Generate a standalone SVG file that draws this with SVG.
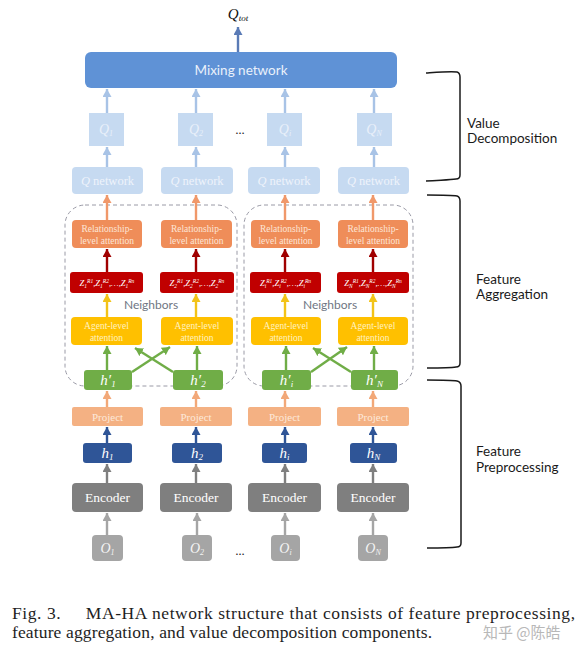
<svg xmlns="http://www.w3.org/2000/svg" width="579" height="658" viewBox="0 0 579 658">
<style>
.mix{fill:#5f92d6}
.qb{fill:#c6daf1}
.rel{fill:#ef8d59}
.z{fill:#c00000}
.ag{fill:#ffc000}
.hp{fill:#70ad47}
.pj{fill:#f4b183}
.hb{fill:#2f5597}
.enc{fill:#7f7f7f}
.ob{fill:#a5a5a5}
.serif{font-family:"Liberation Serif","Times New Roman",serif}
.sans{font-family:Lato,"Liberation Sans",Arial,sans-serif}
.it{font-style:italic}
.ar{fill:none;stroke-width:2.4}
.sb{font-size:5.5px}
.dash{fill:none;stroke:#9a9aa6;stroke-width:1;stroke-dasharray:4 3}
.br{fill:none;stroke:#1a1a1a;stroke-width:1.5}
</style>
<defs>
<marker id="m-qt" markerUnits="userSpaceOnUse" markerWidth="9" markerHeight="9" refX="8" refY="4.5" orient="auto"><path d="M0,0 L8,4.5 L0,9 z" fill="#5a7bb6"/></marker>
<marker id="m-lb" markerUnits="userSpaceOnUse" markerWidth="9" markerHeight="9" refX="8" refY="4.5" orient="auto"><path d="M0,0 L8,4.5 L0,9 z" fill="#a8c3e6"/></marker>
<marker id="m-or" markerUnits="userSpaceOnUse" markerWidth="9" markerHeight="9" refX="8" refY="4.5" orient="auto"><path d="M0,0 L8,4.5 L0,9 z" fill="#f0986a"/></marker>
<marker id="m-rd" markerUnits="userSpaceOnUse" markerWidth="9" markerHeight="9" refX="8" refY="4.5" orient="auto"><path d="M0,0 L8,4.5 L0,9 z" fill="#a00000"/></marker>
<marker id="m-ye" markerUnits="userSpaceOnUse" markerWidth="9" markerHeight="9" refX="8" refY="4.5" orient="auto"><path d="M0,0 L8,4.5 L0,9 z" fill="#f2c318"/></marker>
<marker id="m-gr" markerUnits="userSpaceOnUse" markerWidth="9" markerHeight="9" refX="8" refY="4.5" orient="auto"><path d="M0,0 L8,4.5 L0,9 z" fill="#70ad47"/></marker>
<marker id="m-pj" markerUnits="userSpaceOnUse" markerWidth="9" markerHeight="9" refX="8" refY="4.5" orient="auto"><path d="M0,0 L8,4.5 L0,9 z" fill="#f2a878"/></marker>
<marker id="m-hb" markerUnits="userSpaceOnUse" markerWidth="9" markerHeight="9" refX="8" refY="4.5" orient="auto"><path d="M0,0 L8,4.5 L0,9 z" fill="#2f5597"/></marker>
<marker id="m-gy" markerUnits="userSpaceOnUse" markerWidth="9" markerHeight="9" refX="8" refY="4.5" orient="auto"><path d="M0,0 L8,4.5 L0,9 z" fill="#7f7f7f"/></marker>
<marker id="m-lg" markerUnits="userSpaceOnUse" markerWidth="9" markerHeight="9" refX="8" refY="4.5" orient="auto"><path d="M0,0 L8,4.5 L0,9 z" fill="#a5a5a5"/></marker>
</defs>
<rect width="579" height="658" fill="#ffffff"/>

<g id="groups">
<rect class="dash" x="65" y="205" width="172" height="181" rx="20"/>
<rect class="dash" x="244" y="205" width="169" height="181" rx="20"/>
<text class="sans" x="151" y="309" font-size="12" fill="#6f7683" text-anchor="middle">Neighbors</text>
<text class="sans" x="330" y="309" font-size="12" fill="#6f7683" text-anchor="middle">Neighbors</text>
</g>

<g id="connectors">
<line class="ar" x1="238" y1="52" x2="238" y2="27" stroke="#5a7bb6" marker-end="url(#m-qt)"/>
<g stroke="#a8c3e6">
<line class="ar" x1="107" y1="113" x2="107" y2="89" marker-end="url(#m-lb)"/>
<line class="ar" x1="196" y1="113" x2="196" y2="89" marker-end="url(#m-lb)"/>
<line class="ar" x1="285" y1="113" x2="285" y2="89" marker-end="url(#m-lb)"/>
<line class="ar" x1="374" y1="113" x2="374" y2="89" marker-end="url(#m-lb)"/>
<line class="ar" x1="107" y1="167" x2="107" y2="147" marker-end="url(#m-lb)"/>
<line class="ar" x1="196" y1="167" x2="196" y2="147" marker-end="url(#m-lb)"/>
<line class="ar" x1="285" y1="167" x2="285" y2="147" marker-end="url(#m-lb)"/>
<line class="ar" x1="374" y1="167" x2="374" y2="147" marker-end="url(#m-lb)"/>
</g>
<g stroke="#f0986a">
<line class="ar" x1="107" y1="220" x2="107" y2="195" marker-end="url(#m-or)"/>
<line class="ar" x1="196" y1="220" x2="196" y2="195" marker-end="url(#m-or)"/>
<line class="ar" x1="285" y1="220" x2="285" y2="195" marker-end="url(#m-or)"/>
<line class="ar" x1="373" y1="220" x2="373" y2="195" marker-end="url(#m-or)"/>
</g>
<g stroke="#a00000">
<line class="ar" x1="107" y1="272" x2="107" y2="249" marker-end="url(#m-rd)"/>
<line class="ar" x1="196" y1="272" x2="196" y2="249" marker-end="url(#m-rd)"/>
<line class="ar" x1="285" y1="272" x2="285" y2="249" marker-end="url(#m-rd)"/>
<line class="ar" x1="373" y1="272" x2="373" y2="249" marker-end="url(#m-rd)"/>
</g>
<g stroke="#f2c318">
<line class="ar" x1="107" y1="317" x2="107" y2="294" marker-end="url(#m-ye)"/>
<line class="ar" x1="196" y1="317" x2="196" y2="294" marker-end="url(#m-ye)"/>
<line class="ar" x1="285" y1="317" x2="285" y2="294" marker-end="url(#m-ye)"/>
<line class="ar" x1="373" y1="317" x2="373" y2="294" marker-end="url(#m-ye)"/>
</g>
<g stroke="#70ad47">
<line class="ar" x1="107" y1="370" x2="107" y2="346" marker-end="url(#m-gr)"/>
<line class="ar" x1="197" y1="370" x2="197" y2="346" marker-end="url(#m-gr)"/>
<line class="ar" x1="286" y1="370" x2="286" y2="346" marker-end="url(#m-gr)"/>
<line class="ar" x1="374" y1="370" x2="374" y2="346" marker-end="url(#m-gr)"/>
<line class="ar" x1="132" y1="372" x2="170" y2="347" marker-end="url(#m-gr)"/>
<line class="ar" x1="173" y1="372" x2="135" y2="348" marker-end="url(#m-gr)"/>
<line class="ar" x1="311" y1="372" x2="347" y2="347" marker-end="url(#m-gr)"/>
<line class="ar" x1="351" y1="372" x2="313" y2="348" marker-end="url(#m-gr)"/>
</g>
<g stroke="#f2a878">
<line class="ar" x1="107" y1="407" x2="107" y2="391" marker-end="url(#m-pj)"/>
<line class="ar" x1="196" y1="407" x2="196" y2="391" marker-end="url(#m-pj)"/>
<line class="ar" x1="285" y1="407" x2="285" y2="391" marker-end="url(#m-pj)"/>
<line class="ar" x1="373" y1="407" x2="373" y2="391" marker-end="url(#m-pj)"/>
</g>
<g stroke="#2f5597">
<line class="ar" x1="107" y1="443" x2="107" y2="427" marker-end="url(#m-hb)"/>
<line class="ar" x1="196" y1="443" x2="196" y2="427" marker-end="url(#m-hb)"/>
<line class="ar" x1="285" y1="443" x2="285" y2="427" marker-end="url(#m-hb)"/>
<line class="ar" x1="373" y1="443" x2="373" y2="427" marker-end="url(#m-hb)"/>
</g>
<g stroke="#7f7f7f">
<line class="ar" x1="107" y1="483" x2="107" y2="464" marker-end="url(#m-gy)"/>
<line class="ar" x1="196" y1="483" x2="196" y2="464" marker-end="url(#m-gy)"/>
<line class="ar" x1="285" y1="483" x2="285" y2="464" marker-end="url(#m-gy)"/>
<line class="ar" x1="373" y1="483" x2="373" y2="464" marker-end="url(#m-gy)"/>
</g>
<g stroke="#a5a5a5">
<line class="ar" x1="107" y1="535" x2="107" y2="513" marker-end="url(#m-lg)"/>
<line class="ar" x1="197" y1="535" x2="197" y2="513" marker-end="url(#m-lg)"/>
<line class="ar" x1="285" y1="535" x2="285" y2="513" marker-end="url(#m-lg)"/>
<line class="ar" x1="373" y1="535" x2="373" y2="513" marker-end="url(#m-lg)"/>
</g>
</g>

<g id="qtot"><text class="serif it" x="238" y="19" font-size="15" fill="#111" text-anchor="middle">Q<tspan font-size="9" dy="2">tot</tspan></text></g>

<g id="mixing">
<rect class="mix" x="85" y="52" width="312" height="36" rx="6"/>
<text class="sans" x="241" y="75" font-size="13.5" fill="#eaf1fb" text-anchor="middle">Mixing network</text>
</g>

<g id="q-values" class="serif it" font-size="14" fill="#e9f0fa" text-anchor="middle">
<g id="q1"><rect class="qb" x="89" y="113" width="35" height="33"/><text x="106" y="134">Q<tspan font-size="8" dy="2">1</tspan></text></g>
<g id="q2"><rect class="qb" x="178" y="113" width="35" height="33"/><text x="196" y="134">Q<tspan font-size="8" dy="2">2</tspan></text></g>
<g id="qi"><rect class="qb" x="267" y="113" width="35" height="33"/><text x="285" y="134">Q<tspan font-size="8" dy="2">i</tspan></text></g>
<g id="qn"><rect class="qb" x="357" y="113" width="35" height="33"/><text x="374" y="134">Q<tspan font-size="8" dy="2">N</tspan></text></g>
</g>
<text class="sans" x="240" y="134" font-size="12" fill="#222" text-anchor="middle">…</text>

<g id="q-networks" class="serif" font-size="12.5" fill="#eef3fb" text-anchor="middle">
<g id="qnet1"><rect class="qb" x="72" y="167" width="71" height="27" rx="4"/><text x="107.5" y="185"><tspan font-style="italic">Q</tspan> network</text></g>
<g id="qnet2"><rect class="qb" x="161" y="167" width="72" height="27" rx="4"/><text x="197" y="185"><tspan font-style="italic">Q</tspan> network</text></g>
<g id="qnet3"><rect class="qb" x="248" y="167" width="72" height="27" rx="4"/><text x="284" y="185"><tspan font-style="italic">Q</tspan> network</text></g>
<g id="qnet4"><rect class="qb" x="338" y="167" width="71" height="27" rx="4"/><text x="373.5" y="185"><tspan font-style="italic">Q</tspan> network</text></g>
</g>

<g id="relationship" class="serif" font-size="9.5" fill="#fde6d8" text-anchor="middle">
<g id="rel1"><rect class="rel" x="72" y="220" width="70" height="28" rx="4"/><text x="107" y="232">Relationship-</text><text x="107" y="243.5">level attention</text></g>
<g id="rel2"><rect class="rel" x="161" y="220" width="71" height="28" rx="4"/><text x="196.5" y="232">Relationship-</text><text x="196.5" y="243.5">level attention</text></g>
<g id="rel3"><rect class="rel" x="251" y="220" width="69" height="28" rx="4"/><text x="285.5" y="232">Relationship-</text><text x="285.5" y="243.5">level attention</text></g>
<g id="rel4"><rect class="rel" x="338" y="220" width="70" height="28" rx="4"/><text x="373" y="232">Relationship-</text><text x="373" y="243.5">level attention</text></g>
</g>

<g id="z-features" class="serif it" font-size="8.5" fill="#ffffff" text-anchor="middle">
<g id="z1"><rect class="z" x="70" y="272" width="73" height="21" rx="3"/><text x="107" y="286">Z<tspan class="sb" dy="2">1</tspan><tspan class="sb" dy="-5.5">R1</tspan><tspan dy="3.5">,Z</tspan><tspan class="sb" dy="2">1</tspan><tspan class="sb" dy="-5.5">R2</tspan><tspan dy="3.5">,…,Z</tspan><tspan class="sb" dy="2">1</tspan><tspan class="sb" dy="-5.5">Rn</tspan></text></g>
<g id="z2"><rect class="z" x="160" y="272" width="74" height="21" rx="3"/><text x="197" y="286">Z<tspan class="sb" dy="2">2</tspan><tspan class="sb" dy="-5.5">R1</tspan><tspan dy="3.5">,Z</tspan><tspan class="sb" dy="2">2</tspan><tspan class="sb" dy="-5.5">R2</tspan><tspan dy="3.5">,…,Z</tspan><tspan class="sb" dy="2">2</tspan><tspan class="sb" dy="-5.5">Rn</tspan></text></g>
<g id="z3"><rect class="z" x="250" y="272" width="71" height="21" rx="3"/><text x="285.5" y="286">Z<tspan class="sb" dy="2">i</tspan><tspan class="sb" dy="-5.5">R1</tspan><tspan dy="3.5">,Z</tspan><tspan class="sb" dy="2">i</tspan><tspan class="sb" dy="-5.5">R2</tspan><tspan dy="3.5">,…,Z</tspan><tspan class="sb" dy="2">i</tspan><tspan class="sb" dy="-5.5">Rn</tspan></text></g>
<g id="z4"><rect class="z" x="337" y="272" width="72" height="21" rx="3"/><text x="373" y="286">Z<tspan class="sb" dy="2">N</tspan><tspan class="sb" dy="-5.5">R1</tspan><tspan dy="3.5">,Z</tspan><tspan class="sb" dy="2">N</tspan><tspan class="sb" dy="-5.5">R2</tspan><tspan dy="3.5">,…,Z</tspan><tspan class="sb" dy="2">N</tspan><tspan class="sb" dy="-5.5">Rn</tspan></text></g>
</g>

<g id="agent-level" class="serif" font-size="9.5" fill="#fff2c0" text-anchor="middle">
<g id="ag1"><rect class="ag" x="71" y="317" width="71" height="28" rx="4"/><text x="106.5" y="329">Agent-level</text><text x="106.5" y="341">attention</text></g>
<g id="ag2"><rect class="ag" x="161" y="317" width="72" height="28" rx="4"/><text x="197" y="329">Agent-level</text><text x="197" y="341">attention</text></g>
<g id="ag3"><rect class="ag" x="251" y="317" width="70" height="28" rx="4"/><text x="286" y="329">Agent-level</text><text x="286" y="341">attention</text></g>
<g id="ag4"><rect class="ag" x="338" y="317" width="70" height="28" rx="4"/><text x="373" y="329">Agent-level</text><text x="373" y="341">attention</text></g>
</g>

<g id="h-prime" class="serif it" font-size="15" fill="#ffffff" text-anchor="middle">
<g id="hp1"><rect class="hp" x="84" y="370" width="48" height="20" rx="3"/><text x="108" y="385">h′<tspan font-size="9" dy="2">1</tspan></text></g>
<g id="hp2"><rect class="hp" x="173" y="370" width="50" height="20" rx="3"/><text x="198" y="385">h′<tspan font-size="9" dy="2">2</tspan></text></g>
<g id="hp3"><rect class="hp" x="262" y="370" width="49" height="20" rx="3"/><text x="286.5" y="385">h′<tspan font-size="9" dy="2">i</tspan></text></g>
<g id="hp4"><rect class="hp" x="351" y="370" width="47" height="20" rx="3"/><text x="374.5" y="385">h′<tspan font-size="9" dy="2">N</tspan></text></g>
</g>

<g id="project" class="serif" font-size="11" fill="#fde9da" text-anchor="middle">
<g id="pj1"><rect class="pj" x="72" y="407" width="71" height="19" rx="2"/><text x="107.5" y="420.5">Project</text></g>
<g id="pj2"><rect class="pj" x="160" y="407" width="72" height="19" rx="2"/><text x="196" y="420.5">Project</text></g>
<g id="pj3"><rect class="pj" x="248" y="407" width="73" height="19" rx="2"/><text x="284.5" y="420.5">Project</text></g>
<g id="pj4"><rect class="pj" x="337" y="407" width="72" height="19" rx="2"/><text x="373" y="420.5">Project</text></g>
</g>

<g id="h-features" class="serif it" font-size="15" fill="#ffffff" text-anchor="middle">
<g id="h1"><rect class="hb" x="83" y="443" width="49" height="20" rx="3"/><text x="107.5" y="458">h<tspan font-size="9" dy="2">1</tspan></text></g>
<g id="h2"><rect class="hb" x="172" y="443" width="50" height="20" rx="3"/><text x="197" y="458">h<tspan font-size="9" dy="2">2</tspan></text></g>
<g id="hi"><rect class="hb" x="262" y="443" width="45" height="20" rx="3"/><text x="284.5" y="458">h<tspan font-size="9" dy="2">i</tspan></text></g>
<g id="hn"><rect class="hb" x="350" y="443" width="47" height="20" rx="3"/><text x="373.5" y="458">h<tspan font-size="9" dy="2">N</tspan></text></g>
</g>

<g id="encoders" class="serif" font-size="13.5" fill="#ffffff" text-anchor="middle">
<g id="enc1"><rect class="enc" x="72" y="483" width="71" height="29" rx="4"/><text x="107.5" y="502">Encoder</text></g>
<g id="enc2"><rect class="enc" x="160" y="483" width="72" height="29" rx="4"/><text x="196" y="502">Encoder</text></g>
<g id="enc3"><rect class="enc" x="248" y="483" width="73" height="29" rx="4"/><text x="284.5" y="502">Encoder</text></g>
<g id="enc4"><rect class="enc" x="337" y="483" width="72" height="29" rx="4"/><text x="373" y="502">Encoder</text></g>
</g>

<g id="observations" class="serif it" font-size="14" fill="#f4f4f4" text-anchor="middle">
<g id="o1"><rect class="ob" x="92" y="535" width="31" height="26" rx="4"/><text x="107.5" y="553">O<tspan font-size="8" dy="2">1</tspan></text></g>
<g id="o2"><rect class="ob" x="182" y="535" width="30" height="26" rx="4"/><text x="197" y="553">O<tspan font-size="8" dy="2">2</tspan></text></g>
<g id="oi"><rect class="ob" x="271" y="535" width="29" height="26" rx="4"/><text x="285.5" y="553">O<tspan font-size="8" dy="2">i</tspan></text></g>
<g id="on"><rect class="ob" x="358" y="535" width="30" height="26" rx="4"/><text x="373" y="553">O<tspan font-size="8" dy="2">N</tspan></text></g>
</g>
<text class="sans" x="240" y="555" font-size="12" fill="#222" text-anchor="middle">…</text>

<g id="brackets">
<path class="br" d="M426,73 C440,72 452,71 457,72 Q460,73 460,77 L460,175 Q460,179 456,179 C450,180 440,180 426,181"/>
<path class="br" d="M427,195 C440,195 452,195 457,196 Q460,197 460,201 L460,363 Q460,367 456,367 C450,368 440,368 427,368"/>
<path class="br" d="M427,380 C440,380 452,380 457,381 Q461,382 461,386 L461,543 Q461,547 457,547 C450,548 440,548 427,548"/>
<g class="sans" font-size="13.5" fill="#1a1a1a">
<text x="467" y="128">Value</text>
<text x="467" y="143">Decomposition</text>
<text x="476" y="284">Feature</text>
<text x="476" y="299">Aggregation</text>
<text x="476" y="456">Feature</text>
<text x="476" y="472">Preprocessing</text>
</g>
</g>

<g id="caption" class="serif" font-size="17.5" fill="#1e1e1e">
<text x="12" y="619" textLength="563" lengthAdjust="spacing">Fig. 3.&#160;&#160;&#160;&#160;&#160;MA-HA network structure that consists of feature preprocessing,</text>
<text x="12" y="638" textLength="420" lengthAdjust="spacing">feature aggregation, and value decomposition components.</text>
<text x="483" y="638" font-family="'Noto Sans CJK SC','Liberation Sans',sans-serif" font-size="15" fill="#b8b8b8">知乎 @陈皓</text>
</g>
</svg>
